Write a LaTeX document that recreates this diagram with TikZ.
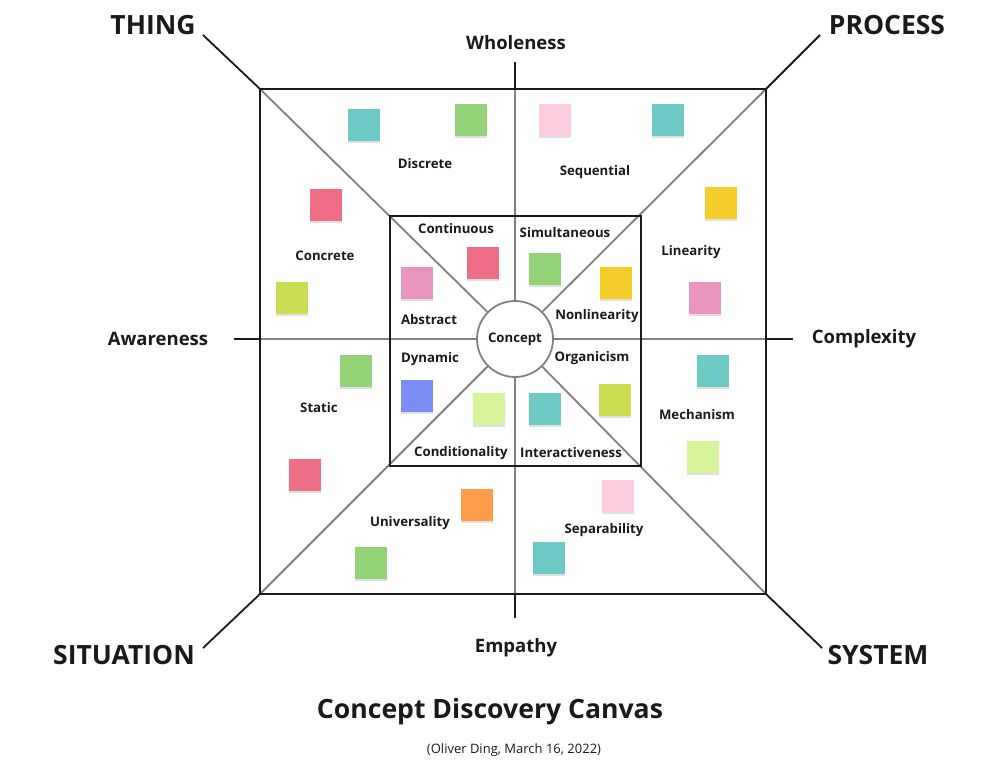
\documentclass[tikz,border=0pt]{standalone}
\usepackage{fontspec}
\setmainfont{Open Sans}
\usepackage{tikz}
\usetikzlibrary{calc,positioning,shadows}
\definecolor{inkblack}{HTML}{1A1A1A}
\definecolor{axisgrey}{HTML}{808080}
\definecolor{nteal}{HTML}{6CC9C3}
\definecolor{ngreen}{HTML}{93D378}
\definecolor{npink}{HTML}{FFCCDF}
\definecolor{nred}{HTML}{EE6F85}
\definecolor{nyellow}{HTML}{F5CE2C}
\definecolor{nrose}{HTML}{E993BF}
\definecolor{nlime}{HTML}{CCDD53}
\definecolor{nblue}{HTML}{7B8EF6}
\definecolor{nmint}{HTML}{D7F49A}
\definecolor{norange}{HTML}{FE9C47}
\tikzset{
  sticky/.style={fill=#1, minimum size=32pt, inner sep=0pt,
                 drop shadow={shadow xshift=0pt, shadow yshift=-1.5pt, opacity=0.12, fill=black}},
  corner/.style={font=\bfseries\fontsize{26.5}{30}\selectfont, text=inkblack},
  axislbl/.style={font=\bfseries\fontsize{18.5}{21}\selectfont, text=inkblack},
  facet/.style={font=\bfseries\fontsize{13.2}{16}\selectfont, text=inkblack},
  frame/.style={line width=2.2pt, draw=inkblack},
  spoke/.style={line width=1.8pt, draw=axisgrey},
  outline/.style={line width=1.8pt, draw=inkblack}
}
\begin{document}
\begin{tikzpicture}[x=1pt, y=-1pt]
  \useasboundingbox (0,0) rectangle (997,769);
  % frame corners
  \coordinate (otl) at (260,89);
  \coordinate (otr) at (766,89);
  \coordinate (obl) at (260,594);
  \coordinate (obr) at (766,594);
  \coordinate (itl) at (390,216);
  \coordinate (ibr) at (641,466);
  \coordinate (otop) at (515,89);
  \coordinate (obot) at (515,594);
  \coordinate (olft) at (260,339);
  \coordinate (orgt) at (766,339);
  % outer ends
  \coordinate (etl) at (203,35);
  \coordinate (etr) at (820,35);
  \coordinate (ebl) at (203,648);
  \coordinate (ebr) at (822,648);
  \coordinate (etop) at (515,62);
  \coordinate (ebot) at (515,618);
  \coordinate (elft) at (234,339);
  \coordinate (ergt) at (793,339);

  \node[circle, draw=axisgrey, line width=1.8pt, fill=white, minimum size=76pt,
        inner sep=0pt, facet] (concept) at (515,339) {Concept};

  \draw[spoke] (otl) -- (concept);
  \draw[spoke] (otr) -- (concept);
  \draw[spoke] (obl) -- (concept);
  \draw[spoke] (obr) -- (concept);
  \draw[spoke] (otop) -- (concept);
  \draw[spoke] (obot) -- (concept);
  \draw[spoke] (olft) -- (concept);
  \draw[spoke] (orgt) -- (concept);

  \draw[outline] (etl) -- (otl);
  \draw[outline] (etr) -- (otr);
  \draw[outline] (ebl) -- (obl);
  \draw[outline] (ebr) -- (obr);
  \draw[outline] (etop) -- (otop);
  \draw[outline] (ebot) -- (obot);
  \draw[outline] (elft) -- (olft);
  \draw[outline] (ergt) -- (orgt);

  \draw[frame] (otl) rectangle (obr);
  \draw[outline] (itl) rectangle (ibr);

  % corner and axis labels
  \node[corner] (thing) at (153,25) {THING};
  \node[corner] (process) at (887,25) {PROCESS};
  \node[corner] (situation) at (124,655) {SITUATION};
  \node[corner] (system) at (878,655) {SYSTEM};
  \node[axislbl] (wholeness) at (516,43) {Wholeness};
  \node[axislbl] (empathy) at (516,648) {Empathy};
  \node[axislbl] (awareness) at (158,339) {Awareness};
  \node[axislbl] (complexity) at (864,339) {Complexity};

  % outer facets
  \node[facet] (discrete) at (425,164) {Discrete};
  \node[facet] (sequential) at (595,172) {Sequential};
  \node[facet] (concrete) at (325,256) {Concrete};
  \node[facet] (linearity) at (691,252) {Linearity};
  \node[facet] (static) at (319,408) {Static};
  \node[facet] (mechanism) at (697,415) {Mechanism};
  \node[facet] (universality) at (410,523) {Universality};
  \node[facet] (separability) at (604,530) {Separability};

  % inner facets
  \node[facet] (continuous) at (456,229) {Continuous};
  \node[facet] (simultaneous) at (565,233) {Simultaneous};
  \node[facet] (abstract) at (429,320) {Abstract};
  \node[facet] (nonlinearity) at (597,316) {Nonlinearity};
  \node[facet] (dynamic) at (430,359) {Dynamic};
  \node[facet] (organicism) at (592,358) {Organicism};
  \node[facet] (conditionality) at (461,453) {Conditionality};
  \node[facet] (interactiveness) at (571,453) {Interactiveness};

  % sticky notes
  \node[sticky=nteal] (s1) at (364,125) {};
  \node[sticky=ngreen] (s2) at (471,120) {};
  \node[sticky=npink] (s3) at (555,120) {};
  \node[sticky=nteal] (s4) at (668,120) {};
  \node[sticky=nred] (s5) at (326,205) {};
  \node[sticky=nyellow] (s6) at (721,203) {};
  \node[sticky=nlime] (s7) at (292,298) {};
  \node[sticky=nrose] (s8) at (705,298) {};
  \node[sticky=ngreen] (s9) at (356,371) {};
  \node[sticky=nteal] (s10) at (713,371) {};
  \node[sticky=nred] (s11) at (305,475) {};
  \node[sticky=nmint] (s12) at (703,457) {};
  \node[sticky=norange] (s13) at (477,505) {};
  \node[sticky=npink] (s14) at (618,496) {};
  \node[sticky=ngreen] (s15) at (371,563) {};
  \node[sticky=nteal] (s16) at (549,558) {};
  \node[sticky=nrose] (s17) at (417,283) {};
  \node[sticky=nred] (s18) at (483,263) {};
  \node[sticky=ngreen] (s19) at (545,269) {};
  \node[sticky=nyellow] (s20) at (616,283) {};
  \node[sticky=nblue] (s21) at (417,396) {};
  \node[sticky=nmint] (s22) at (489,409) {};
  \node[sticky=nteal] (s23) at (545,409) {};
  \node[sticky=nlime] (s24) at (615,400) {};

  % title
  \node[font=\bfseries\fontsize{26.6}{31}\selectfont, text=inkblack] (title) at (490,712) {Concept Discovery Canvas};
  \node[font=\fontsize{13}{15}\selectfont, text=inkblack] (credit) at (514,750) {(Oliver Ding, March 16, 2022)};
\end{tikzpicture}
\end{document}
